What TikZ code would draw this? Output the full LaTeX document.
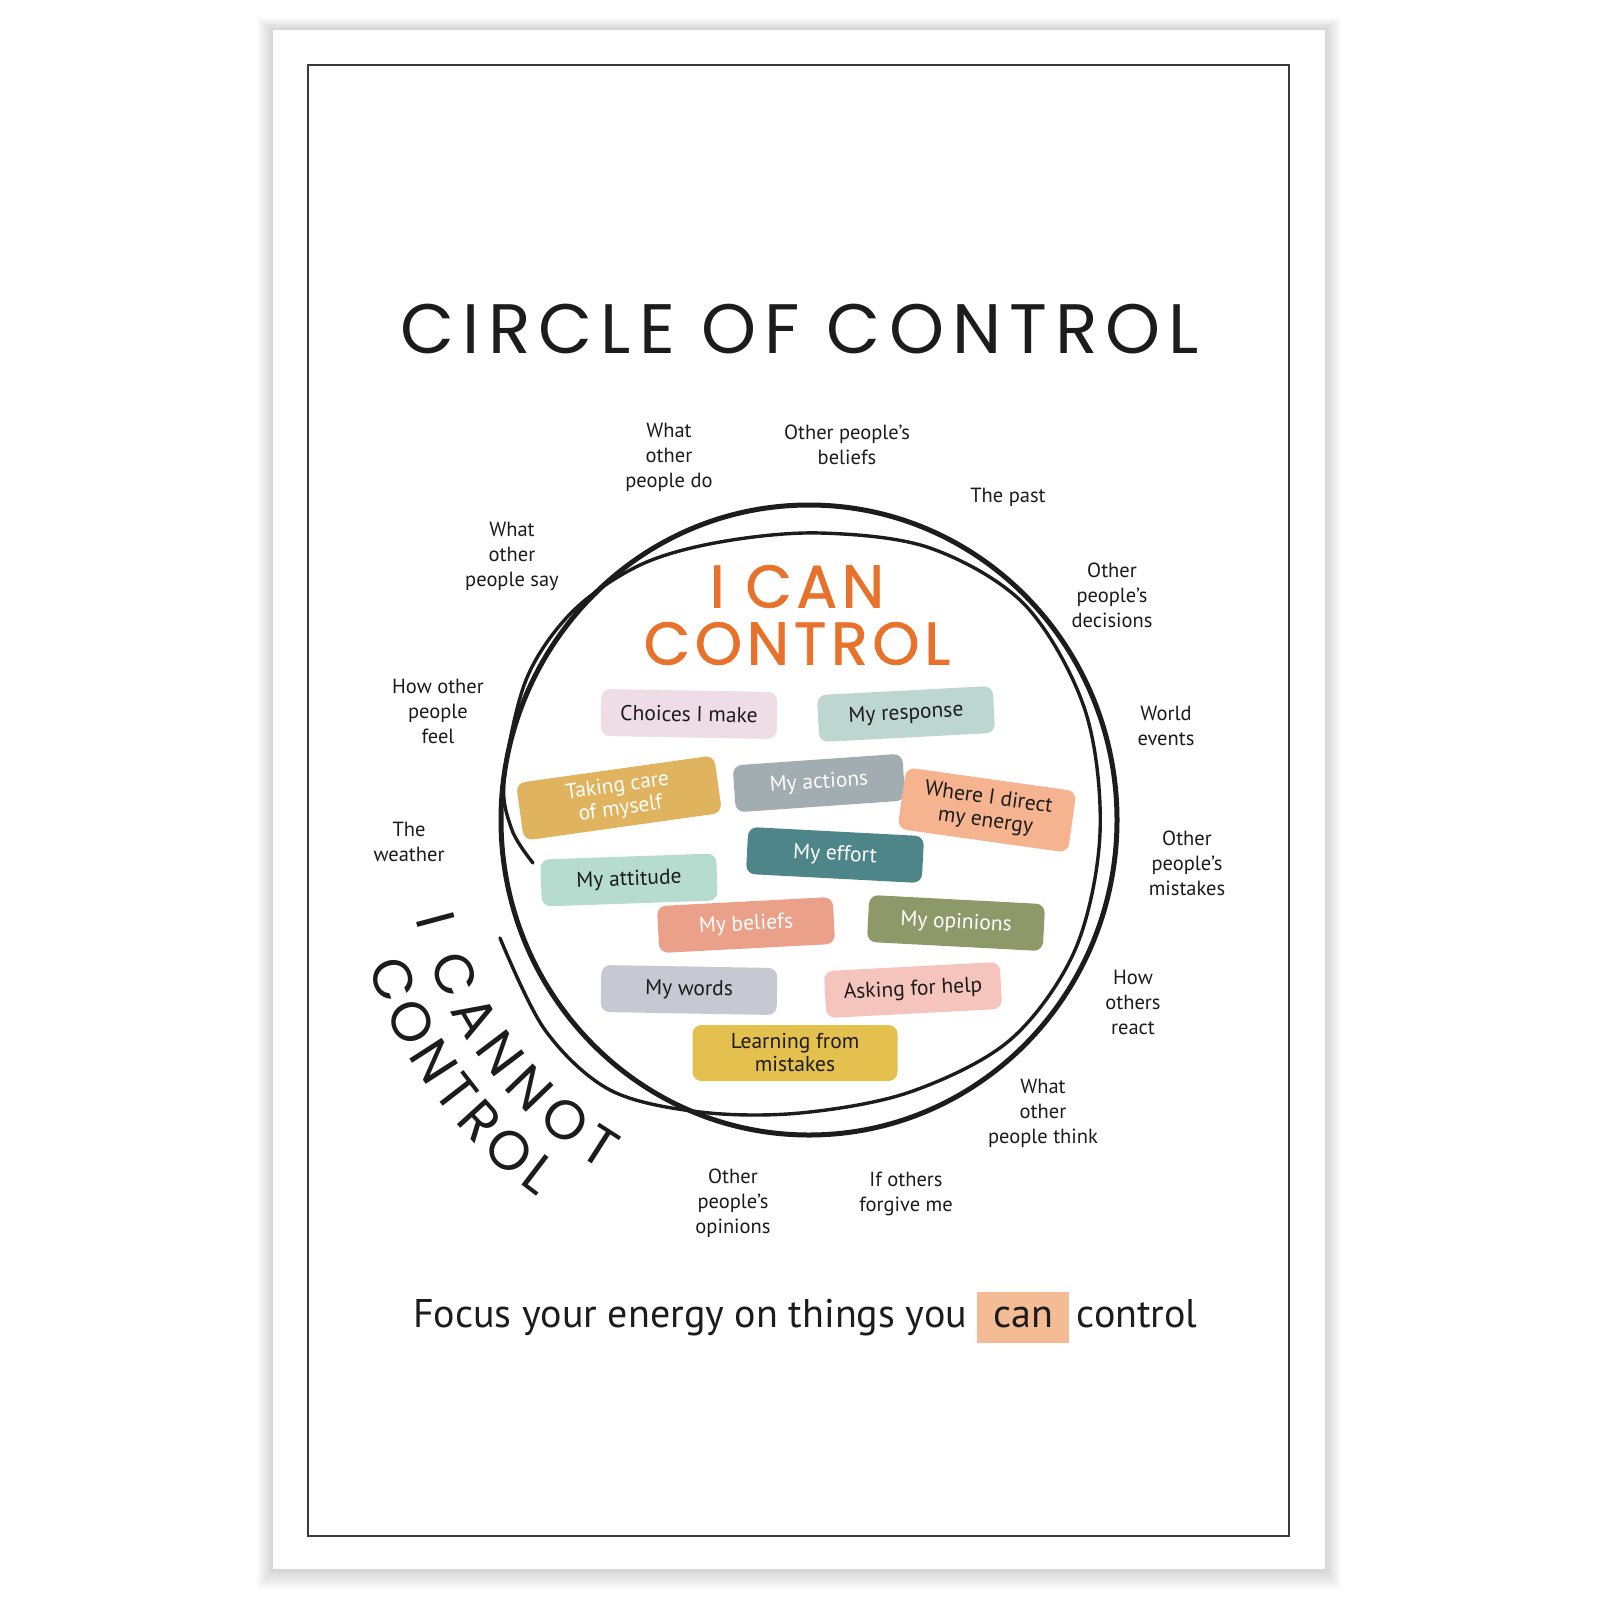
\documentclass[tikz,border=0pt]{standalone}
\usepackage{fontspec}
\setmainfont{PT Sans}
\newfontfamily\headfont{Poppins}[LetterSpace=11.5]
\newfontfamily\orangefont{Poppins}[LetterSpace=8,FakeBold=1.2]
\newfontfamily\ringfont{Poppins}
\usetikzlibrary{positioning,decorations.text}
\definecolor{ink}{HTML}{1C1C1C}
\definecolor{frame}{HTML}{3A3A3A}
\definecolor{accent}{HTML}{E8722C}
\definecolor{peach}{HTML}{F4BC95}
\definecolor{mauve}{HTML}{EEDDE6}
\definecolor{sage}{HTML}{BDD7D0}
\definecolor{ochre}{HTML}{E0B35F}
\definecolor{slate}{HTML}{A1ADB0}
\definecolor{apricot}{HTML}{F5B48F}
\definecolor{deepteal}{HTML}{4E8588}
\definecolor{mint}{HTML}{B6DCCF}
\definecolor{salmon}{HTML}{EBA08A}
\definecolor{moss}{HTML}{8E996A}
\definecolor{lilac}{HTML}{C8C8D2}
\definecolor{blush}{HTML}{F5C4BC}
\definecolor{mustard}{HTML}{E4C04F}

\begin{document}
\begin{tikzpicture}[x=1pt,y=1pt,
  outer/.style={align=center,text=ink,inner sep=0pt,font=\fontsize{20.5}{25}\selectfont},
  pill/.style={fill=#1,rounded corners=9pt,minimum width=176pt,minimum height=47pt,
    align=center,inner sep=2pt,text=ink,font=\fontsize{21.5}{23}\selectfont},
  pillw/.style={pill=#1,text=white},
  ring/.style={draw=ink,line width=#1,line cap=round},
  curved/.style={decorate,decoration={text along path,text align={fit to path},
    text color=ink,text={|\ringfont\fontsize{55}{55}\selectfont|#1}}}
]
\fill[white] (0,0) rectangle (1600,-1600);
\useasboundingbox (0,0) rectangle (1600,-1600);
\foreach \s in {1,...,8}
  \fill[black,opacity=.018] (273-2*\s,-30+1.5*\s) rectangle (1325+2*\s,-1569-2.5*\s);
\fill[white] (273,-30) rectangle (1325,-1569);
\draw[frame,line width=1.4pt] (308,-65) rectangle (1289,-1536);

\node[font=\headfont\fontsize{70}{70}\selectfont,text=ink] (title) at (800,-329) {CIRCLE OF CONTROL};

\coordinate (ctr) at (809,-820);
\draw[ring=5pt] (ctr) ellipse[x radius=308,y radius=315];
\draw[ring=3.4pt] plot[smooth,tension=.55] coordinates {(500,-938) (545,-1030) (610,-1090)
  (700,-1112) (800,-1113) (910,-1092) (1010,-1040) (1075,-950) (1100,-833) (1085,-710)
  (1025,-605) (930,-548) (820,-533) (720,-542) (640,-565) (572,-612) (526,-680) (504,-780)
  (512,-830) (533,-863)};

\node[font=\orangefont\fontsize{60}{57}\selectfont,text=accent,align=center] (ican) at (797,-615) {I CAN\\CONTROL};

\node[pill=mauve,rotate=-1] (choices) at (689,-714) {Choices I make};
\node[pill=sage,rotate=3] (response) at (906,-714) {My response};
\node[pillw=ochre,rotate=8,minimum width=200pt,minimum height=58pt] (care) at (619,-798) {Taking care\\of myself};
\node[pillw=slate,rotate=4,minimum width=170pt] (actions) at (819,-783) {My actions};
\node[pill=apricot,rotate=-8,minimum width=172pt,minimum height=62pt] (energy) at (987,-810) {Where I direct\\my energy};
\node[pillw=deepteal,rotate=-3] (effort) at (835,-855) {My effort};
\node[pill=mint,rotate=2] (attitude) at (629,-880) {My attitude};
\node[pillw=salmon,rotate=3] (beliefs) at (746,-925) {My beliefs};
\node[pillw=moss,rotate=-3] (opinions) at (956,-923) {My opinions};
\node[pill=lilac,rotate=-1] (words) at (689,-990) {My words};
\node[pill=blush,rotate=3] (help) at (913,-990) {Asking for help};
\node[pill=mustard,minimum width=205pt,minimum height=56pt] (learning) at (795,-1053) {Learning from\\mistakes};

\foreach \nm/\x/\y/\txt in {ldo/669/457/{What\\other\\people do},
    lbeliefs/847/445/{Other people's\\beliefs}, lpast/1008/497/{The past},
    ldecisions/1112/595/{Other\\people's\\decisions}, lworld/1166/726/{World\\events},
    lmistakes/1187/863/{Other\\people's\\mistakes}, lreact/1133/1002/{How\\others\\react},
    lthink/1043/1113/{What\\other\\people think}, lforgive/906/1194/{If others\\forgive me},
    lopinions/733/1203/{Other\\people's\\opinions}, lsay/512/556/{What\\other\\people say},
    lfeel/438/711/{How other\\people\\feel}, lweather/409/842/{The\\weather}}
  \node[outer] (\nm) at (\x,-\y) {\txt};

\path[curved={I CANNOT}] (ctr) ++(194:406) arc[start angle=194,end angle=239.5,radius=406];
\path[curved={CONTROL}] (ctr) ++(198.3:465) arc[start angle=198.3,end angle=234.2,radius=465];

\node[anchor=base west,inner sep=0pt,text=ink,font=\fontsize{40}{42}\selectfont] (focus) at (413,-1327) {Focus your energy on things you};
\node[anchor=base west,fill=peach,minimum width=92pt,minimum height=51pt,inner sep=0pt,text=ink,
  font=\fontsize{40}{42}\selectfont] (canword) at ([xshift=10pt]focus.base east) {can};
\node[anchor=base west,inner sep=0pt,text=ink,font=\fontsize{40}{42}\selectfont] (ctrl) at ([xshift=7pt]canword.base east) {control};
\end{tikzpicture}
\end{document}
